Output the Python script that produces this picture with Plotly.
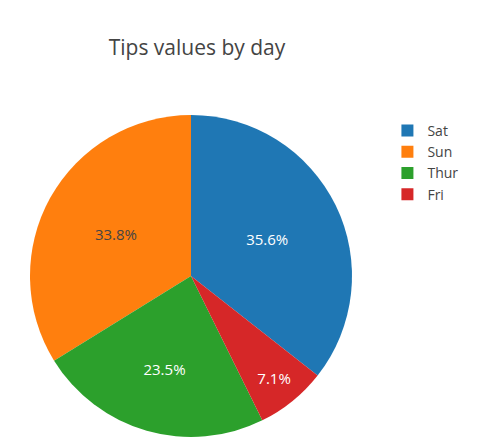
import plotly.graph_objects as go

days = ["Sat", "Sun", "Thur", "Fri"]
tips = [260.40, 247.39, 171.83, 51.96]
colors = ["#1f77b4", "#ff7f0e", "#2ca02c", "#d62728"]

fig = go.Figure(go.Pie(labels=days, values=tips, marker=dict(colors=colors),
                       textinfo="percent", textfont=dict(size=15)))
fig.update_layout(
    width=490, height=446,
    title=dict(text="Tips values by day", x=189/490, xanchor="center",
               y=1-40/446, yanchor="middle", font=dict(size=21, color="#444")),
    margin=dict(l=22, r=146, t=107, b=17),
    legend=dict(x=1.11, y=1, font=dict(size=14)),
    paper_bgcolor="white", plot_bgcolor="white",
    font=dict(family="Open Sans, sans-serif", color="#444"),
)
fig.write_html("out.html")
